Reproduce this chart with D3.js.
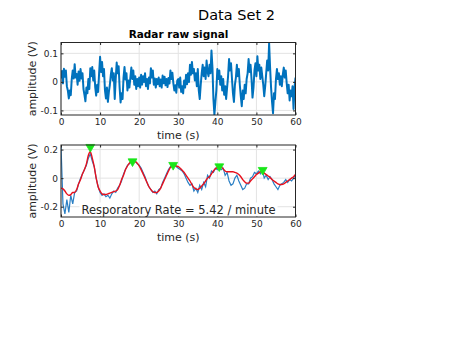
<!DOCTYPE html>
<html>
<head>
<meta charset="utf-8">
<script src="https://cdn.jsdelivr.net/npm/d3@7"></script>
<style>
  body { margin: 0; background: #fff; }
  svg text { font-family: "DejaVu Sans", sans-serif; }
</style>
</head>
<body>
<div class="chartDiv"></div>
<script>
// raw radar signal, sampled every 0.25 s from 0 to 60 s
var rawStep = 0.25;
var rawValues = [
	0.012, 0.038, -0.005, 0.046,   0.018, 0.040, -0.015, -0.030,
	-0.058, -0.030, -0.047, 0.010,   0.040, 0.012, 0.062, 0.015,
	0.028, -0.010, 0.036, 0.004,   0.045, 0.012, 0.030, -0.025,
	-0.045, -0.068, -0.020, -0.040,   0.010, -0.025, 0.048, 0.020,
	0.052, 0.005, 0.040, -0.018,   -0.048, -0.010, -0.035, 0.030,
	0.088, 0.035, 0.070, 0.020,   0.045, -0.030, -0.058, -0.020,
	-0.070, -0.035, -0.010, 0.025,   0.048, 0.005, 0.030, -0.060,
	0.010, 0.068, 0.030, 0.055,   -0.020, -0.072, -0.040, -0.060,
	0.015, 0.052, 0.008, 0.030,   -0.030, 0.005, -0.020, 0.015,
	0.050, 0.010, 0.040, -0.010,   0.020, -0.025, 0.010, -0.015,
	0.015, -0.020, 0.025, -0.010,   0.020, 0.000, 0.030, -0.015,
	0.010, -0.025, 0.015, -0.005,   0.048, 0.015, 0.040, -0.010,
	0.012, -0.020, 0.010, -0.008,   0.015, -0.015, 0.008, -0.020,
	0.022, -0.005, 0.018, -0.012,   0.010, -0.018, 0.014, -0.006,
	0.040, 0.010, 0.032, -0.005,   -0.030, -0.012, -0.038, 0.005,
	0.010, -0.020, 0.015, -0.035,   -0.015, -0.040, 0.005, -0.020,
	0.025, -0.008, 0.030, 0.000,   0.060, 0.025, 0.070, 0.030,
	0.045, 0.005, 0.030, -0.015,   0.045, -0.030, -0.060, -0.010,
	0.030, 0.060, 0.020, 0.050,   0.010, 0.075, 0.035, 0.020,
	0.060, 0.030, 0.110, 0.050,   -0.060, -0.115, -0.070, -0.030,
	0.045, 0.010, 0.040, -0.010,   0.020, -0.030, 0.010, -0.045,
	-0.015, -0.060, -0.020, 0.020,   0.080, 0.040, 0.065, 0.010,
	-0.040, -0.070, -0.010, 0.015,   0.060, 0.020, 0.045, -0.010,
	-0.050, -0.085, -0.030, -0.060,   -0.010, -0.040, 0.010, 0.030,
	0.080, 0.035, 0.060, 0.010,   -0.055, -0.020, 0.040, 0.065,
	0.020, 0.090, 0.040, 0.060,   0.010, 0.050, 0.020, -0.010,
	-0.050, -0.015, 0.030, 0.075,   0.040, 0.135, 0.050, -0.020,
	-0.070, -0.110, -0.040, -0.060,   0.010, 0.045, 0.010, 0.030,
	-0.010, 0.020, -0.015, 0.025,   0.050, 0.015, 0.040, -0.005,
	-0.040, -0.010, -0.065, -0.030,   -0.050, -0.015, -0.095, -0.020,
	0.015
];

// filtered signal (blue) and fitted breathing curve (red), every 0.5 s
var sigStep = 0.5;
var filteredValues = [
	0.23, -0.18, -0.25, -0.15, -0.24, -0.12, -0.18, -0.10, -0.09, -0.04,
	0.00, 0.03, 0.06, 0.09, 0.14, 0.17, 0.12, 0.08, 0.00, -0.06,
	-0.10, -0.12, -0.11, -0.13, -0.12, -0.14, -0.11, -0.09, -0.10, -0.07,
	-0.05, -0.02, 0.03, 0.06, 0.09, 0.10, 0.12, 0.11, 0.12, 0.10,
	0.09, 0.07, 0.04, 0.01, -0.03, -0.06, -0.08, -0.10, -0.09, -0.11,
	-0.08, -0.07, -0.03, 0.00, 0.03, 0.06, 0.08, 0.08, 0.09, 0.08,
	0.07, 0.06, 0.05, 0.03, 0.00, -0.03, -0.05, -0.04, -0.09, -0.07,
	-0.10, -0.05, -0.08, -0.03, -0.06, 0.02, 0.00, 0.05, 0.04, 0.07,
	0.06, 0.08, 0.06, 0.07, 0.02, 0.04, -0.02, -0.05, -0.04, 0.00,
	0.02, -0.02, -0.05, -0.08, -0.07, -0.04, -0.04, 0.00, 0.01, 0.04,
	0.03, 0.05, 0.03, 0.06, 0.00, 0.02, -0.01, 0.01, -0.01, -0.04,
	-0.06, -0.08, -0.05, -0.04, -0.03, -0.01, -0.03, -0.01, -0.02, 0.00,
	0.02
];
var fitValues = [
	-0.07, -0.075, -0.09, -0.11, -0.12, -0.115, -0.10, -0.10, -0.08, -0.04,
	-0.01, 0.03, 0.06, 0.10, 0.16, 0.185, 0.14, 0.08, 0.00, -0.06,
	-0.09, -0.11, -0.115, -0.115, -0.11, -0.105, -0.10, -0.095, -0.09, -0.08,
	-0.05, -0.01, 0.02, 0.06, 0.085, 0.105, 0.115, 0.12, 0.115, 0.105,
	0.085, 0.06, 0.03, 0.00, -0.03, -0.06, -0.08, -0.095, -0.10, -0.10,
	-0.09, -0.07, -0.04, -0.01, 0.02, 0.05, 0.075, 0.085, 0.09, 0.085,
	0.08, 0.07, 0.055, 0.04, 0.02, 0.00, -0.02, -0.045, -0.065, -0.075,
	-0.08, -0.07, -0.055, -0.04, -0.02, 0.00, 0.01, 0.03, 0.05, 0.065,
	0.075, 0.085, 0.08, 0.065, 0.05, 0.045, 0.045, 0.045, 0.045, 0.04,
	0.035, 0.025, 0.01, -0.01, -0.025, -0.035, -0.035, -0.02, -0.005, 0.01,
	0.025, 0.035, 0.045, 0.045, 0.035, 0.025, 0.015, 0.005, -0.01, -0.02,
	-0.03, -0.04, -0.045, -0.045, -0.04, -0.03, -0.02, -0.01, 0.00, 0.01,
	0.025
];

// detected breath peaks
var peakTimes = [7.5, 18.3, 28.7, 40.5, 51.6];
var peakValues = [0.218, 0.117, 0.092, 0.082, 0.057];

var xTicks = [0, 10, 20, 30, 40, 50, 60];
var rawYTicks = [-0.1, 0, 0.1];
var sigYTicks = [-0.2, 0, 0.2];

var svg = d3.select(".chartDiv").append("svg")
	.attr("width", 474)
	.attr("height", 355);

var axisColor = "#262626";

svg.append("text")
	.attr("x", 236.5).attr("y", 20)
	.attr("text-anchor", "middle")
	.style("font-size", "14.5px")
	.style("fill", "#000")
	.text("Data Set 2");

function panel(box, yDomain, yTicks, id)
{
	var x = d3.scaleLinear().domain([0, 60]).range([box.left, box.right]);
	var y = d3.scaleLinear().domain(yDomain).range([box.bottom, box.top]);
	var w = box.right - box.left, h = box.bottom - box.top;

	svg.append("clipPath").attr("id", id)
		.append("rect")
		.attr("x", box.left).attr("y", box.top)
		.attr("width", w).attr("height", h);

	// grid
	var grid = svg.append("g").attr("class", "grid");
	grid.selectAll(".gx").data(xTicks).enter().append("line")
		.attr("x1", function (d) { return x(d); }).attr("x2", function (d) { return x(d); })
		.attr("y1", box.top).attr("y2", box.bottom)
		.style("stroke", "#e3e3e3").style("stroke-width", 1);
	grid.selectAll(".gy").data(yTicks).enter().append("line")
		.attr("y1", function (d) { return y(d); }).attr("y2", function (d) { return y(d); })
		.attr("x1", box.left).attr("x2", box.right)
		.style("stroke", "#e3e3e3").style("stroke-width", 1);

	var plotArea = svg.append("g").attr("clip-path", "url(#" + id + ")");

	// axes with inward ticks
	var fmt = function (d) { return String(+d.toFixed(2)); };
	var axes = [
		svg.append("g").attr("transform", "translate(0," + box.bottom + ")")
			.call(d3.axisBottom(x).tickValues(xTicks).tickSize(-2.5).tickPadding(4).tickFormat(fmt)),
		svg.append("g").attr("transform", "translate(" + box.left + ",0)")
			.call(d3.axisLeft(y).tickValues(yTicks).tickSize(-2.5).tickPadding(3).tickFormat(fmt)),
		svg.append("g").attr("transform", "translate(0," + box.top + ")")
			.call(d3.axisTop(x).tickValues(xTicks).tickSize(-2.5).tickFormat("")),
		svg.append("g").attr("transform", "translate(" + box.right + ",0)")
			.call(d3.axisRight(y).tickValues(yTicks).tickSize(-2.5).tickFormat(""))
	];
	axes.forEach(function (a) {
		a.select(".domain").remove();
		a.selectAll("line").style("stroke", axisColor);
		a.selectAll("text").style("font-size", "9px").style("fill", axisColor)
			.style("font-family", "DejaVu Sans, sans-serif");
	});

	svg.append("text")
		.attr("transform", "translate(" + 36 + "," + ((box.top + box.bottom) / 2) + ") rotate(-90)")
		.attr("text-anchor", "middle")
		.style("font-size", "11px").style("fill", axisColor)
		.text("amplitude (V)");

	svg.append("text")
		.attr("x", (box.left + box.right) / 2).attr("y", box.bottom + 24)
		.attr("text-anchor", "middle")
		.style("font-size", "11px").style("fill", axisColor)
		.text("time (s)");

	return {x: x, y: y, plot: plotArea, box: box};
}

// top: raw signal
var p1 = panel({left: 61, right: 295.5, top: 42.5, bottom: 115}, [-0.116, 0.138], rawYTicks, "clip1");

svg.append("text")
	.attr("x", 178.5).attr("y", 38)
	.attr("text-anchor", "middle")
	.style("font-size", "10.5px").style("font-weight", "bold")
	.style("fill", "#000")
	.text("Radar raw signal");

var rawLine = d3.line()
	.x(function (d, i) { return p1.x(i * rawStep); })
	.y(function (d) { return p1.y(d); });

p1.plot.append("path")
	.datum(rawValues)
	.attr("d", rawLine)
	.style("fill", "none")
	.style("stroke", "#0072BD")
	.style("stroke-width", 2)
	.style("stroke-linejoin", "round");

// bottom: filtered signal + fit
var p2 = panel({left: 61, right: 295.5, top: 145, bottom: 217}, [-0.272, 0.232], sigYTicks, "clip2");

p2.plot.append("path")
	.datum(filteredValues)
	.attr("d", d3.line()
		.x(function (d, i) { return p2.x(i * sigStep); })
		.y(function (d) { return p2.y(d); }))
	.style("fill", "none")
	.style("stroke", "#2a7fc4")
	.style("stroke-width", 1.2);

p2.plot.append("path")
	.datum(fitValues)
	.attr("d", d3.line().curve(d3.curveMonotoneX)
		.x(function (d, i) { return p2.x(i * sigStep); })
		.y(function (d) { return p2.y(d); }))
	.style("fill", "none")
	.style("stroke", "#e8101c")
	.style("stroke-width", 1.4);

var tri = d3.symbol().type(d3.symbolTriangle).size(34);
svg.append("g").selectAll("path")
	.data(peakTimes)
	.enter().append("path")
	.attr("d", tri)
	.attr("transform", function (d, i) {
		return "translate(" + p2.x(d) + "," + p2.y(peakValues[i]) + ") rotate(180)";
	})
	.style("fill", "#19e619")
	.style("stroke", "#19e619")
	.style("stroke-width", 0.8);

// rate annotation with white background
var note = svg.append("g");
var noteText = note.append("text")
	.attr("x", 178.5).attr("y", 213.5)
	.attr("text-anchor", "middle")
	.style("font-size", "11.5px")
	.style("fill", axisColor)
	.text("Resporatory Rate = 5.42 / minute");
var bb = noteText.node().getBBox();
note.insert("rect", "text")
	.attr("x", bb.x - 2).attr("y", bb.y)
	.attr("width", bb.width + 4).attr("height", 216.5 - bb.y)
	.style("fill", "#fff");

// frames on top
[p1.box, p2.box].forEach(function (b) {
	svg.append("rect")
		.attr("x", b.left).attr("y", b.top)
		.attr("width", b.right - b.left).attr("height", b.bottom - b.top)
		.style("fill", "none")
		.style("stroke", axisColor)
		.style("stroke-width", 1);
});
</script>
</body>
</html>
